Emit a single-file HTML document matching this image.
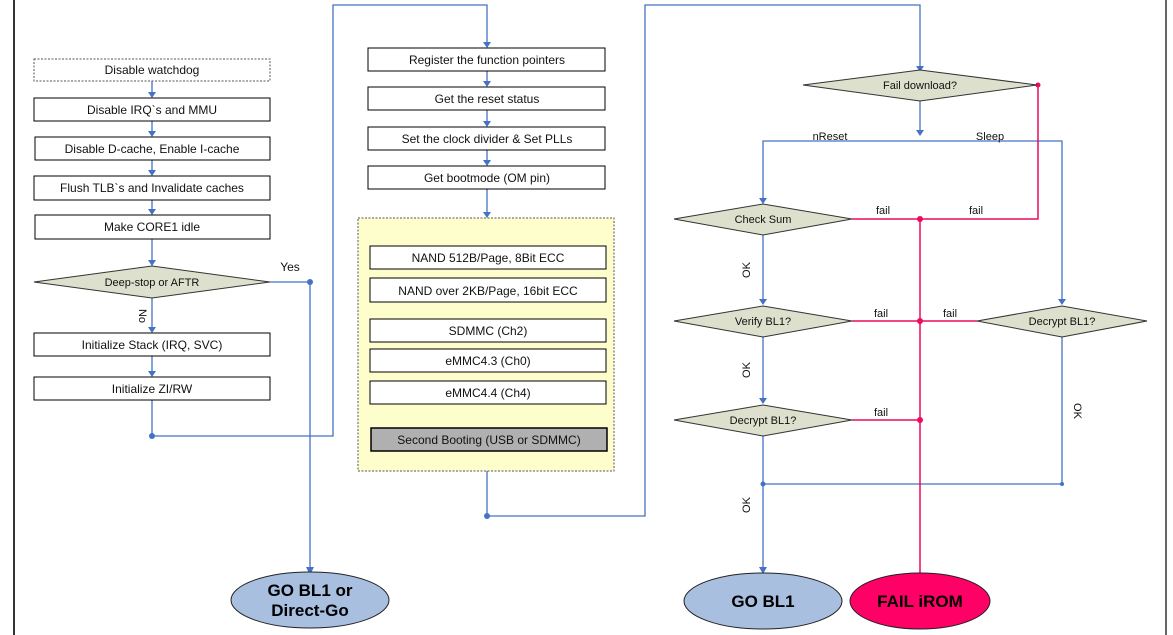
<!DOCTYPE html>
<html><head><style>
html,body{margin:0;padding:0;background:#fff;}
svg{display:block;font-family:"Liberation Sans",sans-serif;}
</style></head><body>
<svg width="1173" height="635" viewBox="0 0 1173 635" xmlns="http://www.w3.org/2000/svg">
<line x1="14" y1="0" x2="14" y2="635" stroke="#333" stroke-width="2"/>
<line x1="1166" y1="0" x2="1166" y2="635" stroke="#333" stroke-width="1.5"/>
<g fill="none" stroke="#4472c4" stroke-width="1.3">
<path d="M152,81V92 M152,121V131 M152,160V170 M152,200V209 M152,239V260 M152,298V327 M152,356V371"/>
<path d="M270,282H310V567"/>
<path d="M152,400V436H333V5H487V42"/>
<path d="M487,71V81 M487,110V121 M487,150V160 M487,189V212"/>
<path d="M487,471V516H645V5H920V66"/>
<path d="M920,101V130"/>
<path d="M763,198V141H1062V299"/>
<path d="M763,235V299 M763,337V398 M763,436V567"/>
<path d="M1062,337V484H763"/>
</g>
<g fill="#4472c4">
<path d="M148,92h8l-4,6z M148,131h8l-4,6z M148,170h8l-4,6z M148,209h8l-4,6z M148,260h8l-4,6z M148,327h8l-4,6z M148,371h8l-4,6z"/>
<path d="M306,567h8l-4,8z M483,42h8l-4,6z M483,81h8l-4,6z M483,121h8l-4,6z M483,160h8l-4,6z M483,212h8l-4,6z"/>
<path d="M916,66h8l-4,6z M916,130h8l-4,6z M759,198h8l-4,6z M759,299h8l-4,6z M759,398h8l-4,6z M1058,299h8l-4,6z M759,567h8l-4,7z"/>
<circle cx="310" cy="282" r="3"/><circle cx="152" cy="436" r="3"/><circle cx="487" cy="516" r="3"/><circle cx="763" cy="484" r="2.5"/><circle cx="1062" cy="484" r="2"/>
</g>
<g fill="none" stroke="#ee0a5f" stroke-width="1.5">
<path d="M852,219H1038V85"/>
<path d="M920,219V580"/>
<path d="M852,321H977 M852,420H920"/>
</g>
<g fill="#ee0a5f">
<path d="M916,580h8l-4,7z"/>
<circle cx="1038" cy="85" r="2.5"/><circle cx="920" cy="219" r="3"/><circle cx="920" cy="321" r="3"/><circle cx="920" cy="420" r="3"/>
</g>
<g stroke="#000" stroke-width="1" fill="#fff">
<rect x="34" y="59" width="236" height="22" stroke-dasharray="2,1.5" stroke="#555"/>
<rect x="34" y="98" width="236" height="23"/>
<rect x="35" y="137" width="235" height="23"/>
<rect x="34" y="176" width="236" height="24"/>
<rect x="35" y="215" width="235" height="24"/>
<rect x="34" y="333" width="236" height="23"/>
<rect x="34" y="377" width="236" height="23"/>
<rect x="368" y="48" width="237" height="23"/>
<rect x="368" y="87" width="237" height="23"/>
<rect x="368" y="127" width="237" height="23"/>
<rect x="368" y="166" width="237" height="23"/>
<rect x="358" y="218" width="256" height="253" fill="#fefecc" stroke="#555" stroke-dasharray="2,1.5"/>
<rect x="370" y="246" width="236" height="23"/>
<rect x="370" y="278" width="236" height="24"/>
<rect x="370" y="319" width="236" height="23"/>
<rect x="370" y="349" width="236" height="23"/>
<rect x="370" y="381" width="236" height="23"/>
<rect x="371" y="428" width="236" height="23" fill="#b0b0b0" stroke-width="1.5"/>
</g>
<g stroke="#333" stroke-width="1" fill="#dde0cc">
<polygon points="34,282 152,266 270,282 152,298"/>
<polygon points="803,85 920,70 1037,85 920,101"/>
<polygon points="674,219 763,204 852,219 763,235"/>
<polygon points="674,321 763,306 852,321 763,337"/>
<polygon points="977,321 1062,306 1147,321 1062,337"/>
<polygon points="674,420 763,405 852,420 763,436"/>
</g>
<g stroke="#222" stroke-width="1">
<ellipse cx="310" cy="600" rx="79" ry="28" fill="#a9bfe0"/>
<ellipse cx="763" cy="601" rx="79" ry="28" fill="#a9bfe0"/>
<ellipse cx="920" cy="601" rx="70" ry="28" fill="#ff0066"/>
</g>
<g font-size="12" text-anchor="middle" fill="#111">
<text x="152" y="74">Disable watchdog</text>
<text x="152" y="114">Disable IRQ`s and MMU</text>
<text x="152" y="153">Disable D-cache, Enable I-cache</text>
<text x="152" y="192">Flush TLB`s and Invalidate caches</text>
<text x="152" y="231">Make CORE1 idle</text>
<text x="152" y="286" font-size="11">Deep-stop or AFTR</text>
<text x="152" y="349">Initialize Stack (IRQ, SVC)</text>
<text x="152" y="393">Initialize ZI/RW</text>
<text x="487" y="64">Register the function pointers</text>
<text x="487" y="103">Get the reset status</text>
<text x="487" y="143">Set the clock divider &amp; Set PLLs</text>
<text x="487" y="182">Get bootmode (OM pin)</text>
<text x="488" y="262">NAND 512B/Page, 8Bit ECC</text>
<text x="488" y="295">NAND over 2KB/Page, 16bit ECC</text>
<text x="488" y="335">SDMMC (Ch2)</text>
<text x="488" y="365">eMMC4.3 (Ch0)</text>
<text x="488" y="397">eMMC4.4 (Ch4)</text>
<text x="489" y="444">Second Booting (USB or SDMMC)</text>
<text x="290" y="271">Yes</text>
<text x="920" y="89" font-size="11">Fail download?</text>
<text x="763" y="223" font-size="11">Check Sum</text>
<text x="763" y="325" font-size="11">Verify BL1?</text>
<text x="1062" y="325" font-size="11">Decrypt BL1?</text>
<text x="763" y="424" font-size="11">Decrypt BL1?</text>
</g>
<g font-size="11" text-anchor="middle" fill="#111">
<text x="830" y="140">nReset</text>
<text x="990" y="140">Sleep</text>
<text x="883" y="214">fail</text>
<text x="976" y="214">fail</text>
<text x="881" y="317">fail</text>
<text x="950" y="317">fail</text>
<text x="881" y="416">fail</text>
<text transform="translate(139,316) rotate(90)">No</text>
<text transform="translate(750,270) rotate(-90)">OK</text>
<text transform="translate(750,370) rotate(-90)">OK</text>
<text transform="translate(750,505) rotate(-90)">OK</text>
<text transform="translate(1074,411) rotate(90)">OK</text>
</g>
<g font-size="17" font-weight="bold" text-anchor="middle" fill="#000">
<text x="310" y="596">GO BL1 or</text>
<text x="310" y="616">Direct-Go</text>
<text x="763" y="607">GO BL1</text>
<text x="920" y="607">FAIL iROM</text>
</g>
</svg>
</body></html>
